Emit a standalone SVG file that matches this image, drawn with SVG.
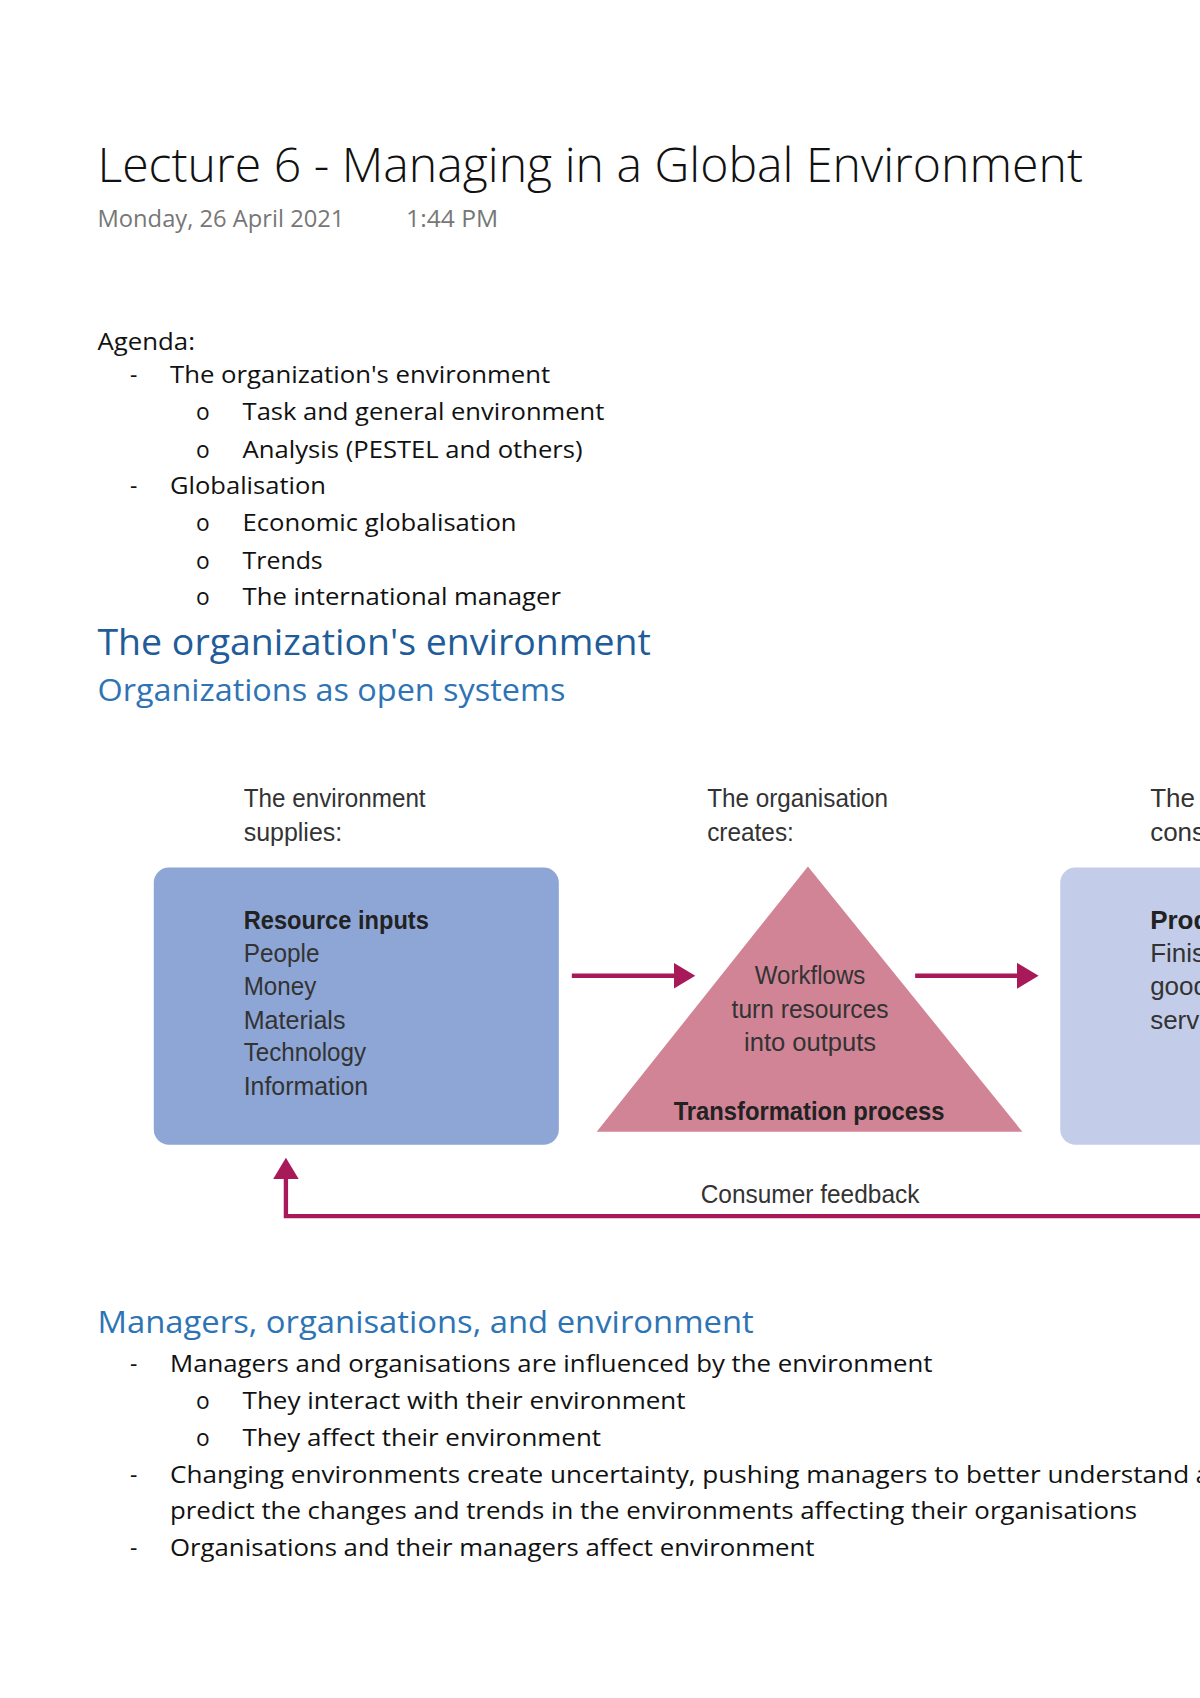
<svg xmlns="http://www.w3.org/2000/svg" width="1200" height="1698" viewBox="0 0 1200 1698">
<style>
.b{font-family:"Open Sans","Liberation Sans",sans-serif;font-size:21px;fill:#111}
.d{font-family:"Liberation Sans",sans-serif;font-size:24px;fill:#333}
.db{font-family:"Liberation Sans",sans-serif;font-size:24px;fill:#222;font-weight:bold}
.h{font-family:"Open Sans","Liberation Sans",sans-serif;fill:#2E74B5}
.c{stroke:#A8195A;stroke-width:4;fill:none}
</style>
<defs>
<marker id="ah" markerWidth="6" markerHeight="6" refX="3" refY="3" orient="auto" markerUnits="strokeWidth"><path d="M0,0 L5,3 L0,6 Z" fill="#A8195A"/></marker>
</defs>
<rect width="1200" height="1698" fill="#fff"/>
<g transform="scale(1.083)">
<g id="header">
<text x="90" y="168" font-family="Open Sans, Liberation Sans, sans-serif" font-weight="300" font-size="44" fill="#111" textLength="910" lengthAdjust="spacingAndGlyphs">Lecture 6 - Managing in a Global Environment</text>
<text x="90" y="210" class="b" fill="#777" style="fill:#777" textLength="228" lengthAdjust="spacingAndGlyphs">Monday, 26 April 2021</text>
<text x="375" y="210" class="b" style="fill:#777" textLength="85" lengthAdjust="spacingAndGlyphs">1:44 PM</text>
</g>
<g id="agenda">
<text x="90" y="323" class="b" textLength="90" lengthAdjust="spacingAndGlyphs">Agenda:</text>
<text x="120" y="354" class="b">-</text><text x="157" y="354" class="b" textLength="351" lengthAdjust="spacingAndGlyphs">The organization's environment</text>
<text x="181" y="388" class="b">o</text><text x="224" y="388" class="b" textLength="334" lengthAdjust="spacingAndGlyphs">Task and general environment</text>
<text x="181" y="423" class="b">o</text><text x="224" y="423" class="b" textLength="314" lengthAdjust="spacingAndGlyphs">Analysis (PESTEL and others)</text>
<text x="120" y="456" class="b">-</text><text x="157" y="456" class="b" textLength="144" lengthAdjust="spacingAndGlyphs">Globalisation</text>
<text x="181" y="490" class="b">o</text><text x="224" y="490" class="b" textLength="253" lengthAdjust="spacingAndGlyphs">Economic globalisation</text>
<text x="181" y="525" class="b">o</text><text x="224" y="525" class="b" textLength="74" lengthAdjust="spacingAndGlyphs">Trends</text>
<text x="181" y="559" class="b">o</text><text x="224" y="559" class="b" textLength="294" lengthAdjust="spacingAndGlyphs">The international manager</text>
</g>
<text x="90" y="605" class="h" font-size="34" style="fill:#1F5C99" textLength="511" lengthAdjust="spacingAndGlyphs">The organization's environment</text>
<text x="90" y="647" class="h" font-size="28" textLength="432" lengthAdjust="spacingAndGlyphs">Organizations as open systems</text>
<g id="labels">
<text x="225" y="745" class="d" textLength="168" lengthAdjust="spacingAndGlyphs">The environment</text>
<text x="225" y="777" class="d" textLength="91" lengthAdjust="spacingAndGlyphs">supplies:</text>
<text x="653" y="745" class="d" textLength="167" lengthAdjust="spacingAndGlyphs">The organisation</text>
<text x="653" y="777" class="d" textLength="80" lengthAdjust="spacingAndGlyphs">creates:</text>
<text x="1062" y="745" class="d">The customer</text>
<text x="1062" y="777" class="d">consumes:</text>
</g>
<g id="inputs">
<rect x="142" y="801" width="374" height="256" rx="14" fill="#8DA6D6"/>
<text x="225" y="858" class="db" textLength="171" lengthAdjust="spacingAndGlyphs">Resource inputs</text>
<text x="225" y="888" class="d" textLength="70" lengthAdjust="spacingAndGlyphs">People</text>
<text x="225" y="919" class="d" textLength="67" lengthAdjust="spacingAndGlyphs">Money</text>
<text x="225" y="950" class="d" textLength="94" lengthAdjust="spacingAndGlyphs">Materials</text>
<text x="225" y="980" class="d" textLength="113" lengthAdjust="spacingAndGlyphs">Technology</text>
<text x="225" y="1011" class="d" textLength="115" lengthAdjust="spacingAndGlyphs">Information</text>
</g>
<g id="transformation">
<polygon points="746,800 551,1045 944,1045" fill="#D18496"/>
<text x="748" y="909" class="d" text-anchor="middle" textLength="102" lengthAdjust="spacingAndGlyphs">Workflows</text>
<text x="748" y="940" class="d" text-anchor="middle" textLength="145" lengthAdjust="spacingAndGlyphs">turn resources</text>
<text x="748" y="970" class="d" text-anchor="middle" textLength="122" lengthAdjust="spacingAndGlyphs">into outputs</text>
<text x="747" y="1034" class="db" text-anchor="middle" textLength="250" lengthAdjust="spacingAndGlyphs">Transformation process</text>
</g>
<g id="outputs">
<rect x="979" y="801" width="300" height="256" rx="14" fill="#C3CDE9"/>
<text x="1062" y="858" class="db">Product outputs</text>
<text x="1062" y="888" class="d">Finished</text>
<text x="1062" y="919" class="d">goods and</text>
<text x="1062" y="950" class="d">services</text>
</g>
<g id="connectors">
<line x1="528" y1="901" x2="634" y2="901" class="c" marker-end="url(#ah)"/>
<line x1="845" y1="901" x2="951" y2="901" class="c" marker-end="url(#ah)"/>
<polyline points="1120,1123 264,1123 264,1077" class="c" marker-end="url(#ah)"/>
<text x="748" y="1111" class="d" text-anchor="middle" textLength="202" lengthAdjust="spacingAndGlyphs">Consumer feedback</text>
</g>
<g id="managers">
<text x="90" y="1231" class="h" font-size="28" textLength="606" lengthAdjust="spacingAndGlyphs">Managers, organisations, and environment</text>
<text x="120" y="1267" class="b">-</text><text x="157" y="1267" class="b" textLength="704" lengthAdjust="spacingAndGlyphs">Managers and organisations are influenced by the environment</text>
<text x="181" y="1301" class="b">o</text><text x="224" y="1301" class="b" textLength="409" lengthAdjust="spacingAndGlyphs">They interact with their environment</text>
<text x="181" y="1335" class="b">o</text><text x="224" y="1335" class="b" textLength="331" lengthAdjust="spacingAndGlyphs">They affect their environment</text>
<text x="120" y="1369" class="b">-</text><text x="157" y="1369" class="b" textLength="941" lengthAdjust="spacingAndGlyphs">Changing environments create uncertainty, pushing managers to better understand</text><text x="1104" y="1369" class="b">and</text>
<text x="157" y="1403" class="b" textLength="893" lengthAdjust="spacingAndGlyphs">predict the changes and trends in the environments affecting their organisations</text>
<text x="120" y="1437" class="b">-</text><text x="157" y="1437" class="b" textLength="595" lengthAdjust="spacingAndGlyphs">Organisations and their managers affect environment</text>
</g>
</g>
</svg>
